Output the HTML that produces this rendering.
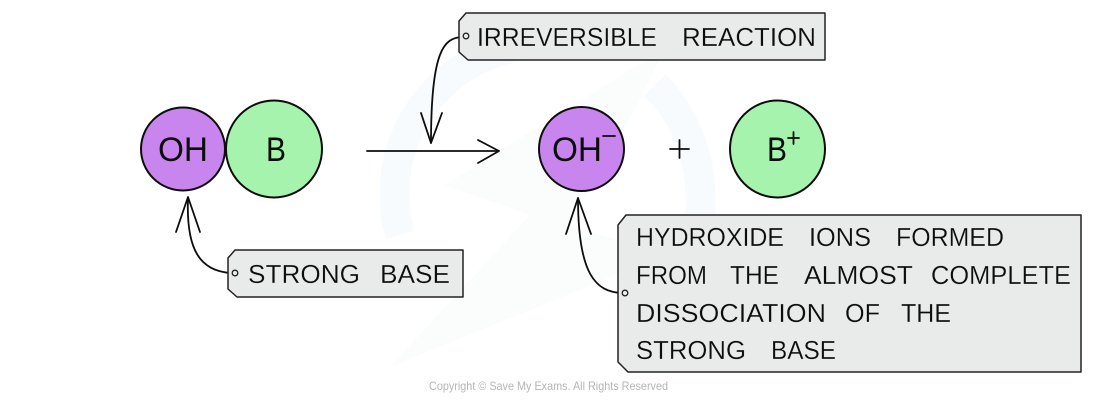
<!DOCTYPE html>
<html><head><meta charset="utf-8"><style>
html,body{margin:0;padding:0;background:#fff;width:1100px;height:402px;overflow:hidden}
svg{display:block}
text{font-family:"Liberation Sans",sans-serif;fill:#0d0d0d;font-size:26px}
.t text{stroke:#e9eaea;stroke-width:.2}
.c text{font-size:34px}
</style></head><body>
<svg width="1100" height="402" viewBox="0 0 1100 402" xmlns="http://www.w3.org/2000/svg">
<!-- watermark -->
<g fill="none" stroke="#f8fbfd" stroke-width="30">
<path d="M400 235A150 150 0 0 1 560 45"/>
<path d="M655 85C700 130 712 200 690 265"/>
</g>
<polygon points="665,48 445,185 530,215 390,367 665,255 570,225 640,100" fill="#fbfcfc"/>

<!-- circles -->
<g stroke="#0d0d0d" stroke-width="2">
<ellipse cx="183" cy="149" rx="42" ry="41.5" fill="#c885ee"/>
<ellipse cx="274" cy="149" rx="48" ry="48.5" fill="#a6f3ad"/>
<ellipse cx="581.500" cy="149" rx="42.500" ry="42" fill="#c885ee"/>
<ellipse cx="777.500" cy="149" rx="47.500" ry="48.500" fill="#a6f3ad"/>
</g>
<g class="c">
<text x="158" y="161" textLength="50" lengthAdjust="spacingAndGlyphs">OH</text>
<text x="266" y="161" textLength="20" lengthAdjust="spacingAndGlyphs">B</text>
<text x="552" y="161" textLength="50" lengthAdjust="spacingAndGlyphs">OH</text>
<text x="767" y="161" textLength="20" lengthAdjust="spacingAndGlyphs">B</text>
</g>
<g fill="none" stroke="#0d0d0d" stroke-width="1.8" stroke-linecap="round" stroke-linejoin="round">
<!-- superscripts and plus -->
<path d="M603 136H615"/>
<path d="M788 138H799M793.500 132V144"/>
<path d="M670 149H689M679.500 140V158"/>
<!-- reaction arrow -->
<path d="M367 151H498"/>
<path d="M478 140L499 151L478 163"/>
<!-- down arrow -->
<path d="M462 37C444 38 431 50 431 143"/>
<path d="M421 113L431 143L442 113"/>
<!-- strong base arrow -->
<path d="M231 273C200 271 186 250 188 198"/>
<path d="M176 232L188 197L200 232"/>
<!-- hydroxide arrow -->
<path d="M622 293C596 292 578 275 578 198"/>
<path d="M566 234L578 198L591 234"/>
</g>
<!-- label boxes -->
<g fill="#e9eaea" stroke="#222" stroke-width="1.5" stroke-linejoin="round">
<path d="M235 250H463V297H237L228 289V258Z"/>
<path d="M466 13H825V60H468L459 52V21Z"/>
<path d="M626 215H1081V372H628L618 362V225Z"/>
</g>
<g fill="#e9eaea" stroke="#222" stroke-width="1.3">
<circle cx="235" cy="273" r="2.800"/>
<circle cx="466" cy="36" r="2.800"/>
<circle cx="625" cy="293" r="2.800"/>
</g>
<g class="t">
<text x="248" y="283" textLength="112" lengthAdjust="spacingAndGlyphs">STRONG</text>
<text x="380" y="283" textLength="70" lengthAdjust="spacingAndGlyphs">BASE</text>
<text x="477" y="46" textLength="180" lengthAdjust="spacingAndGlyphs">IRREVERSIBLE</text>
<text x="682" y="46" textLength="134" lengthAdjust="spacingAndGlyphs">REACTION</text>
<text x="636" y="246" textLength="148" lengthAdjust="spacingAndGlyphs">HYDROXIDE</text>
<text x="809" y="246" textLength="62" lengthAdjust="spacingAndGlyphs">IONS</text>
<text x="896" y="246" textLength="108" lengthAdjust="spacingAndGlyphs">FORMED</text>
<text x="636" y="284" textLength="71" lengthAdjust="spacingAndGlyphs">FROM</text>
<text x="730" y="284" textLength="49" lengthAdjust="spacingAndGlyphs">THE</text>
<text x="804" y="284" textLength="109" lengthAdjust="spacingAndGlyphs">ALMOST</text>
<text x="931" y="284" textLength="140" lengthAdjust="spacingAndGlyphs">COMPLETE</text>
<text x="636" y="322" textLength="190" lengthAdjust="spacingAndGlyphs">DISSOCIATION</text>
<text x="845" y="322" textLength="35" lengthAdjust="spacingAndGlyphs">OF</text>
<text x="901" y="322" textLength="50" lengthAdjust="spacingAndGlyphs">THE</text>
<text x="636" y="359" textLength="110" lengthAdjust="spacingAndGlyphs">STRONG</text>
<text x="771" y="359" textLength="65" lengthAdjust="spacingAndGlyphs">BASE</text>
</g>
<text x="429" y="390" textLength="239" lengthAdjust="spacingAndGlyphs" style="font-size:12px;fill:#b5b5b5">Copyright © Save My Exams. All Rights Reserved</text>
</svg>
</body></html>
